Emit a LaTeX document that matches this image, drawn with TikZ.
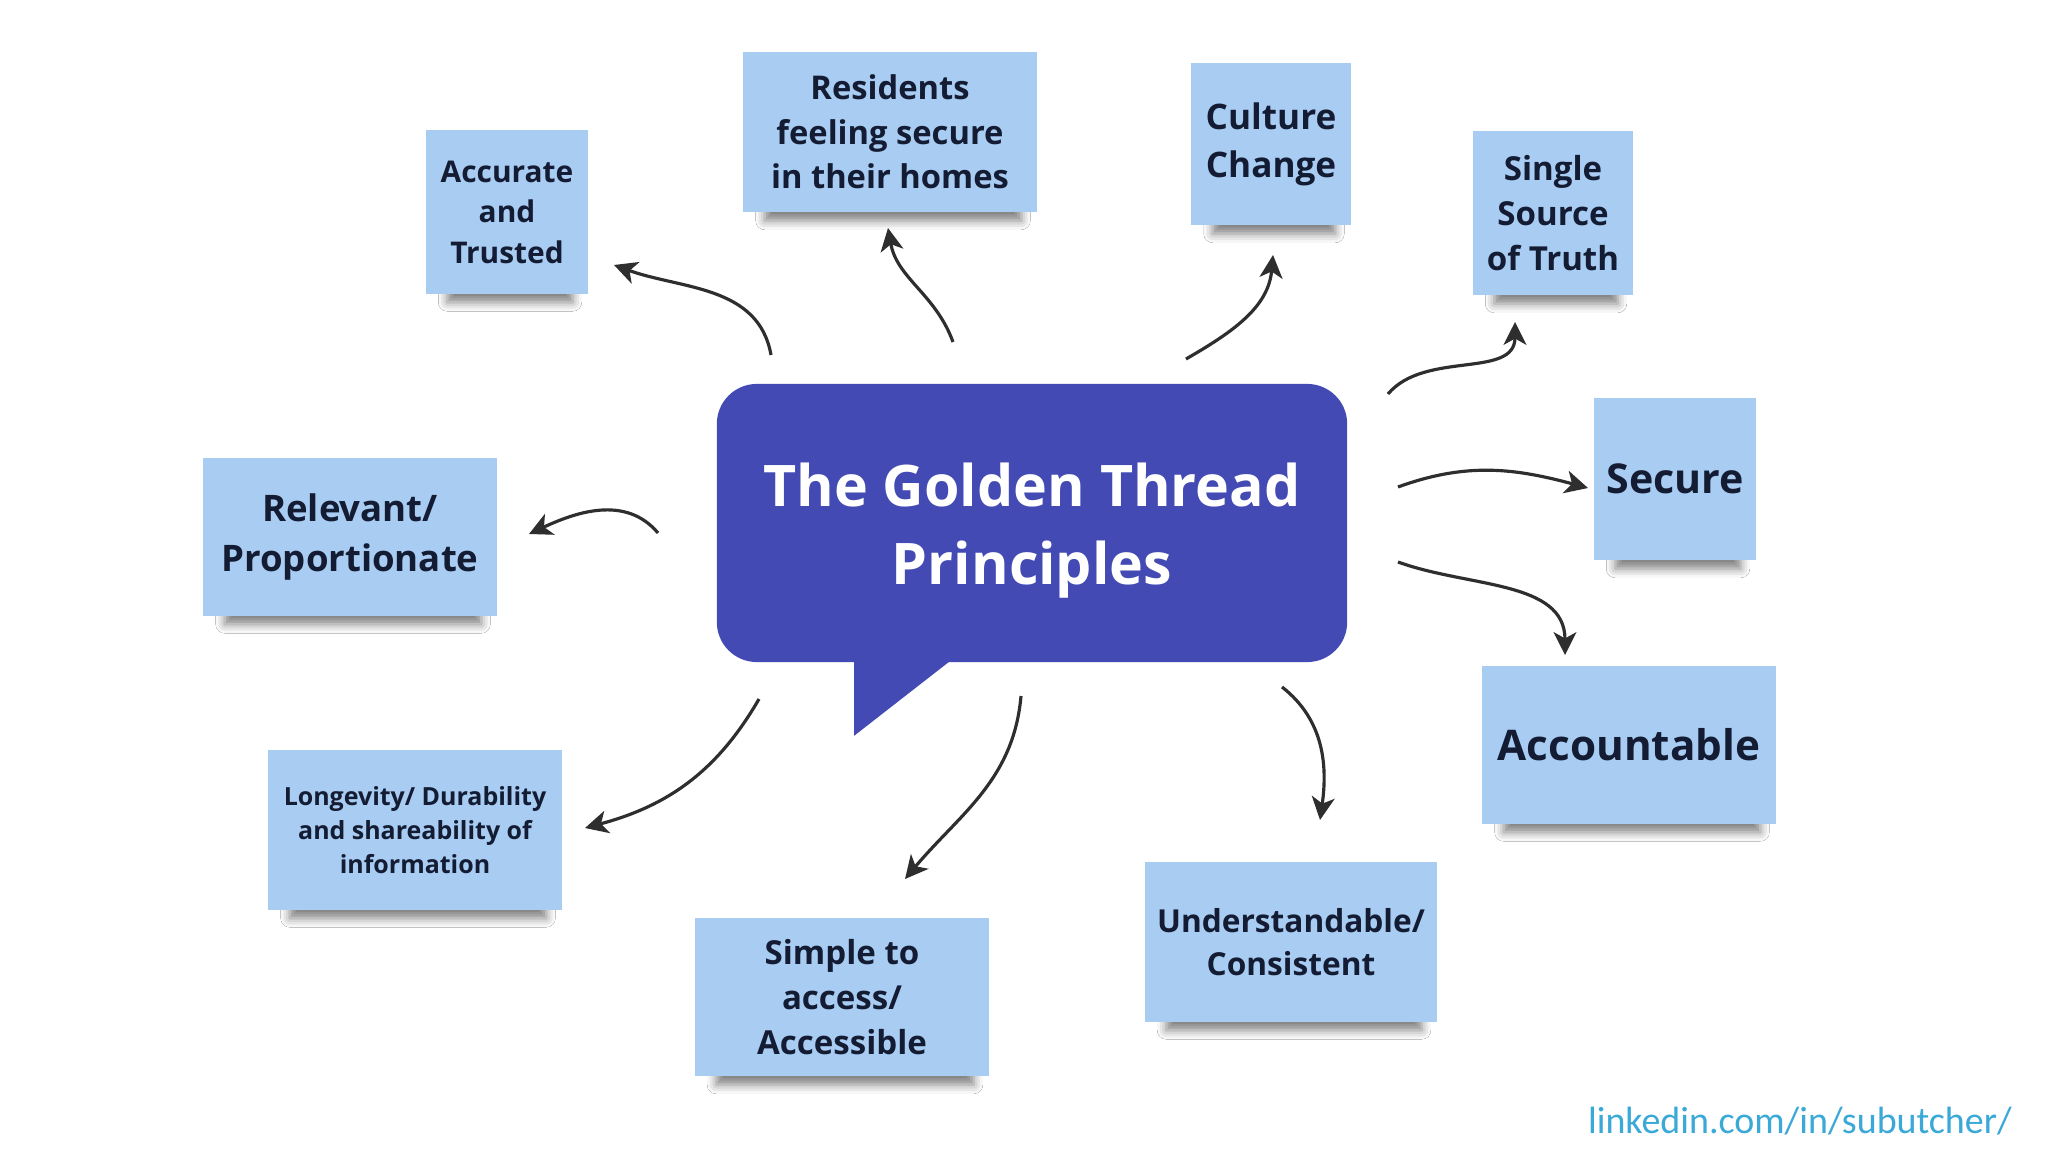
\documentclass[tikz,border=0pt]{standalone}
\usepackage{fontspec}
\setmainfont{Open Sans}
\newfontfamily\linkfont{Carlito}
\usetikzlibrary{arrows.meta}
\usetikzlibrary{shadows.blur}
\usetikzlibrary{backgrounds}
\usetikzlibrary{calc}
\definecolor{notefill}{HTML}{A8CCF2}
\definecolor{notetext}{HTML}{141C33}
\definecolor{bubble}{HTML}{434AB3}
\definecolor{arrowgray}{HTML}{2E2E2E}
\definecolor{linkblue}{HTML}{3AA9D8}
\newcommand{\notefont}[2]{\fontsize{#1}{#2}\selectfont\bfseries}

\begin{document}
\begin{tikzpicture}[x=0.01cm,y=0.01cm,
    note/.style={fill=notefill, text=notetext, align=center, inner sep=0pt},
    curl/.style={blur shadow={shadow xshift=0pt, shadow yshift=-0.8mm,
        shadow opacity=50, shadow blur radius=0.9mm}},
    pointer/.style={arrowgray, line width=0.9pt, -{Stealth[length=6.5pt,width=6.5pt,inset=1.8pt]}}]

      \useasboundingbox (0,0) rectangle (2048,-1152);

      % speech bubble
      \node[fill=bubble, rounded corners=0.4cm, minimum width=6.3cm, minimum height=2.78cm] (golden_thread) at (1032,-523) {};
      \fill[bubble] ($(golden_thread.south west)+(138,1)$) -- ++(0,-74)
        -- ($(golden_thread.south west)+(233,1)$) -- cycle;
      \node[text=white, align=center, font=\notefont{16.3}{22.2}] (title) at ($(golden_thread.center)+(0,-8)$)
        {The Golden Thread\\Principles};

      % sticky notes
      \node[note, minimum width=1.62cm, minimum height=1.63cm, font=\notefont{8.5}{11.5}] (accurate) at (507,-212) {Accurate\\and\\Trusted};
      \node[note, minimum width=2.93cm, minimum height=1.60cm, font=\notefont{9.3}{12.6}] (residents) at (890,-132) {Residents\\feeling secure\\in their homes};
      \node[note, minimum width=1.59cm, minimum height=1.62cm, font=\notefont{10}{13.7}] (culture) at (1271,-144) {Culture\\Change};
      \node[note, minimum width=1.60cm, minimum height=1.64cm, font=\notefont{9.4}{12.8}] (single_source) at (1553,-213) {Single\\Source\\of Truth};
      \node[note, minimum width=1.62cm, minimum height=1.62cm, font=\notefont{11.7}{15.9}] (secure) at (1675,-479) {Secure};
      \node[note, minimum width=2.93cm, minimum height=1.57cm, font=\notefont{12}{16.4}] (accountable) at (1629,-745) {Accountable};
      \node[note, minimum width=2.93cm, minimum height=1.57cm, font=\notefont{10.4}{14.2}] (relevant) at (350,-537) {Relevant/\\Proportionate};
      \node[note, minimum width=2.93cm, minimum height=1.59cm, font=\notefont{7.1}{9.7}] (longevity) at (415,-830) {Longevity/ Durability\\and shareability of\\information};
      \node[note, minimum width=2.94cm, minimum height=1.58cm, font=\notefont{9.4}{12.8}] (simple) at (842,-997) {Simple to\\access/\\Accessible};
      \node[note, minimum width=2.92cm, minimum height=1.59cm, font=\notefont{9}{12.2}] (understandable) at (1291,-942) {Understandable/\\Consistent};

      % white page and the curled shadows under the notes
      \begin{scope}[on background layer]
        \fill[white] (0,0) rectangle (2048,-1152);
        \foreach \n in {accurate,residents,culture,single_source,secure,accountable,relevant,longevity,simple,understandable}
          \path[curl] ($(\n.south west)+(22,0)$) rectangle ($(\n.south east)+(-16,24)$);
      \end{scope}

      % arrow ends
      \coordinate (from_accurate) at (771,-355);   \coordinate (to_accurate) at (614,-265);
      \coordinate (from_residents) at (953,-342);  \coordinate (to_residents) at (888,-228);
      \coordinate (from_culture) at (1186,-359);   \coordinate (to_culture) at (1273,-255);
      \coordinate (from_single) at (1388,-394);    \coordinate (to_single) at (1515,-322);
      \coordinate (from_secure) at (1398,-487);    \coordinate (to_secure) at (1588,-488);
      \coordinate (from_account) at (1398,-562);   \coordinate (to_account) at (1565,-655);
      \coordinate (from_relevant) at (658,-533);   \coordinate (to_relevant) at (529,-534);
      \coordinate (from_longevity) at (759,-699);  \coordinate (to_longevity) at (585,-828);
      \coordinate (from_simple) at (1021,-696);    \coordinate (to_simple) at (905,-879);
      \coordinate (from_underst) at (1282,-687);   \coordinate (to_underst) at (1320,-820);

      \path[pointer]
      (from_accurate) edge[out=100, in=-20] (to_accurate)
      (from_residents) edge[out=110, in=-80] (to_residents)
      (from_culture) edge[out=30, in=-95] (to_culture)
      (from_single) edge[out=50, in=-90] (to_single)
      (from_secure) edge[out=20, in=165] (to_secure)
      (from_account) edge[out=-20, in=90] (to_account)
      (from_relevant) edge[out=130, in=25] (to_relevant)
      (from_longevity) edge[out=-120, in=15] (to_longevity)
      (from_simple) edge[out=-95, in=50] (to_simple)
      (from_underst) edge[out=-38, in=82] (to_underst)
      ;

      \node[text=linkblue, font=\linkfont\fontsize{10.8}{13}\selectfont] (linkedin) at (1800,-1121) {linkedin.com/in/subutcher/};
    \end{tikzpicture}
\end{document}
